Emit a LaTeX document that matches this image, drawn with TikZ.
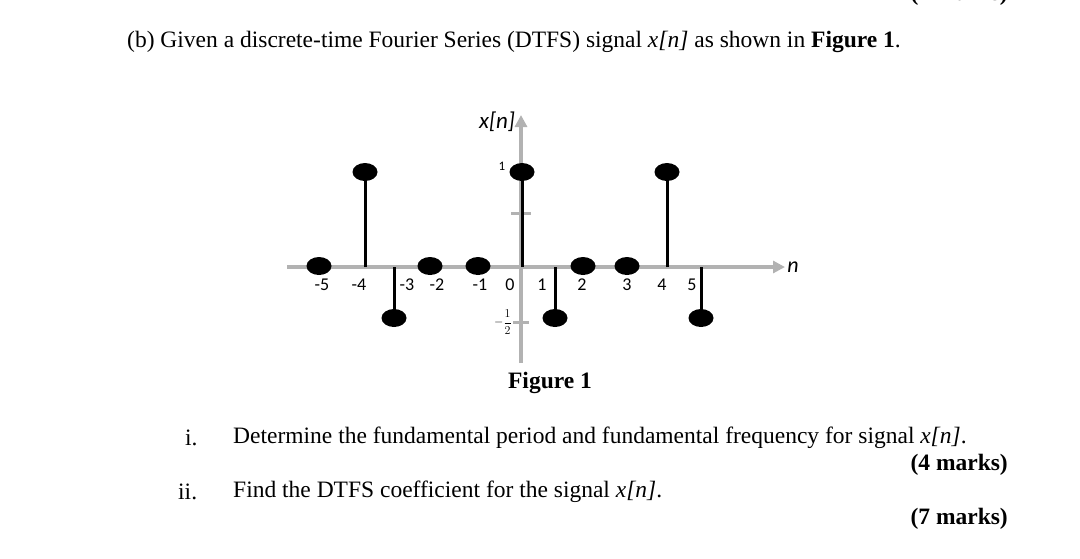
\documentclass[tikz,border=0pt]{standalone}
\usepackage{fontspec}
\setmainfont{Liberation Serif}
\newfontfamily\cambria{Carlito}
\begin{document}
\begin{tikzpicture}[x=1pt,y=-1pt,
  txt/.style={font=\fontsize{23.5}{28}\selectfont,inner sep=0pt},
  bt/.style={font=\bfseries\fontsize{23.5}{28}\selectfont,inner sep=0pt},
  ax/.style={draw=gray!60,line width=4pt},
  stem/.style={line width=3pt,black},
  dot/.style={fill=black,ellipse,minimum width=25pt,minimum height=18pt,inner sep=0pt,draw=none},
  tl/.style={font=\cambria\fontsize{18}{20}\selectfont,inner sep=0pt}]
\usetikzlibrary{shapes.geometric,arrows.meta}
\useasboundingbox (0,0) rectangle (1080,558);
\clip (0,0) rectangle (1080,558);
\node[bt,anchor=east] (mk0) at (1008,-5) {(4 marks)};
\node[txt,anchor=west] (t0) at (127,42) {(b) Given a discrete-time Fourier Series (DTFS) signal \textit{x[n]} as shown in \textbf{Figure 1}.};
% axes
\coordinate (hl) at (287,267); \coordinate (hr) at (785,267);
\coordinate (vb) at (521,363); \coordinate (vt) at (521,115);
\draw[ax,-{Triangle[length=12pt,width=12pt]}] (hl) -- (hr);
\draw[ax,-{Triangle[length=12pt,width=12pt]}] (vb) -- (vt);
\draw[gray!60,line width=3pt] (511,213) -- (531,213);
\draw[gray!60,line width=3pt] (513,322) -- (529,322);
% stems
\foreach \x/\y [count=\i] in {319/266,365/172,394/318,430/266,478/266,522/172,555/318,583/266,627/266,667/172,701/318}{
  \ifdim\y pt=266pt\else \draw[stem] (\x,267) -- (\x,\y);\fi
  \node[dot] (d\i) at (\x,\y) {};
}
\foreach \t/\x in {-5/322,-4/359,-3/407,-2/437,-1/480,0/510,1/542,2/582,3/627,4/662,5/692}
  \node[tl] (l\x) at (\x,285) {\t};
\node[font=\cambria\itshape\fontsize{23}{25}\selectfont,inner sep=0pt] (xn) at (497,122) {x[n]};
\node[font=\cambria\fontsize{13}{15}\selectfont,inner sep=0pt] (one) at (502,166) {1};
\node[font=\fontsize{12}{14}\selectfont,inner sep=0pt,anchor=east] (half) at (512,322) {$-\displaystyle\frac{1}{2}$};
\node[font=\cambria\itshape\fontsize{22}{24}\selectfont,inner sep=0pt] (nn) at (793,267) {n};
\node[bt] (fig) at (550,383) {Figure 1};
\node[txt,anchor=west] (i) at (185,438) {i.};
\node[txt,anchor=west] (it) at (233,438) {Determine the fundamental period and fundamental frequency for signal \textit{x[n]}.};
\node[bt,anchor=east] (m4) at (1008,465) {(4 marks)};
\node[txt,anchor=west] (ii) at (178,492) {ii.};
\node[txt,anchor=west] (iit) at (233,492) {Find the DTFS coefficient for the signal \textit{x[n]}.};
\node[bt,anchor=east] (m7) at (1008,519) {(7 marks)};
\end{tikzpicture}
\end{document}
